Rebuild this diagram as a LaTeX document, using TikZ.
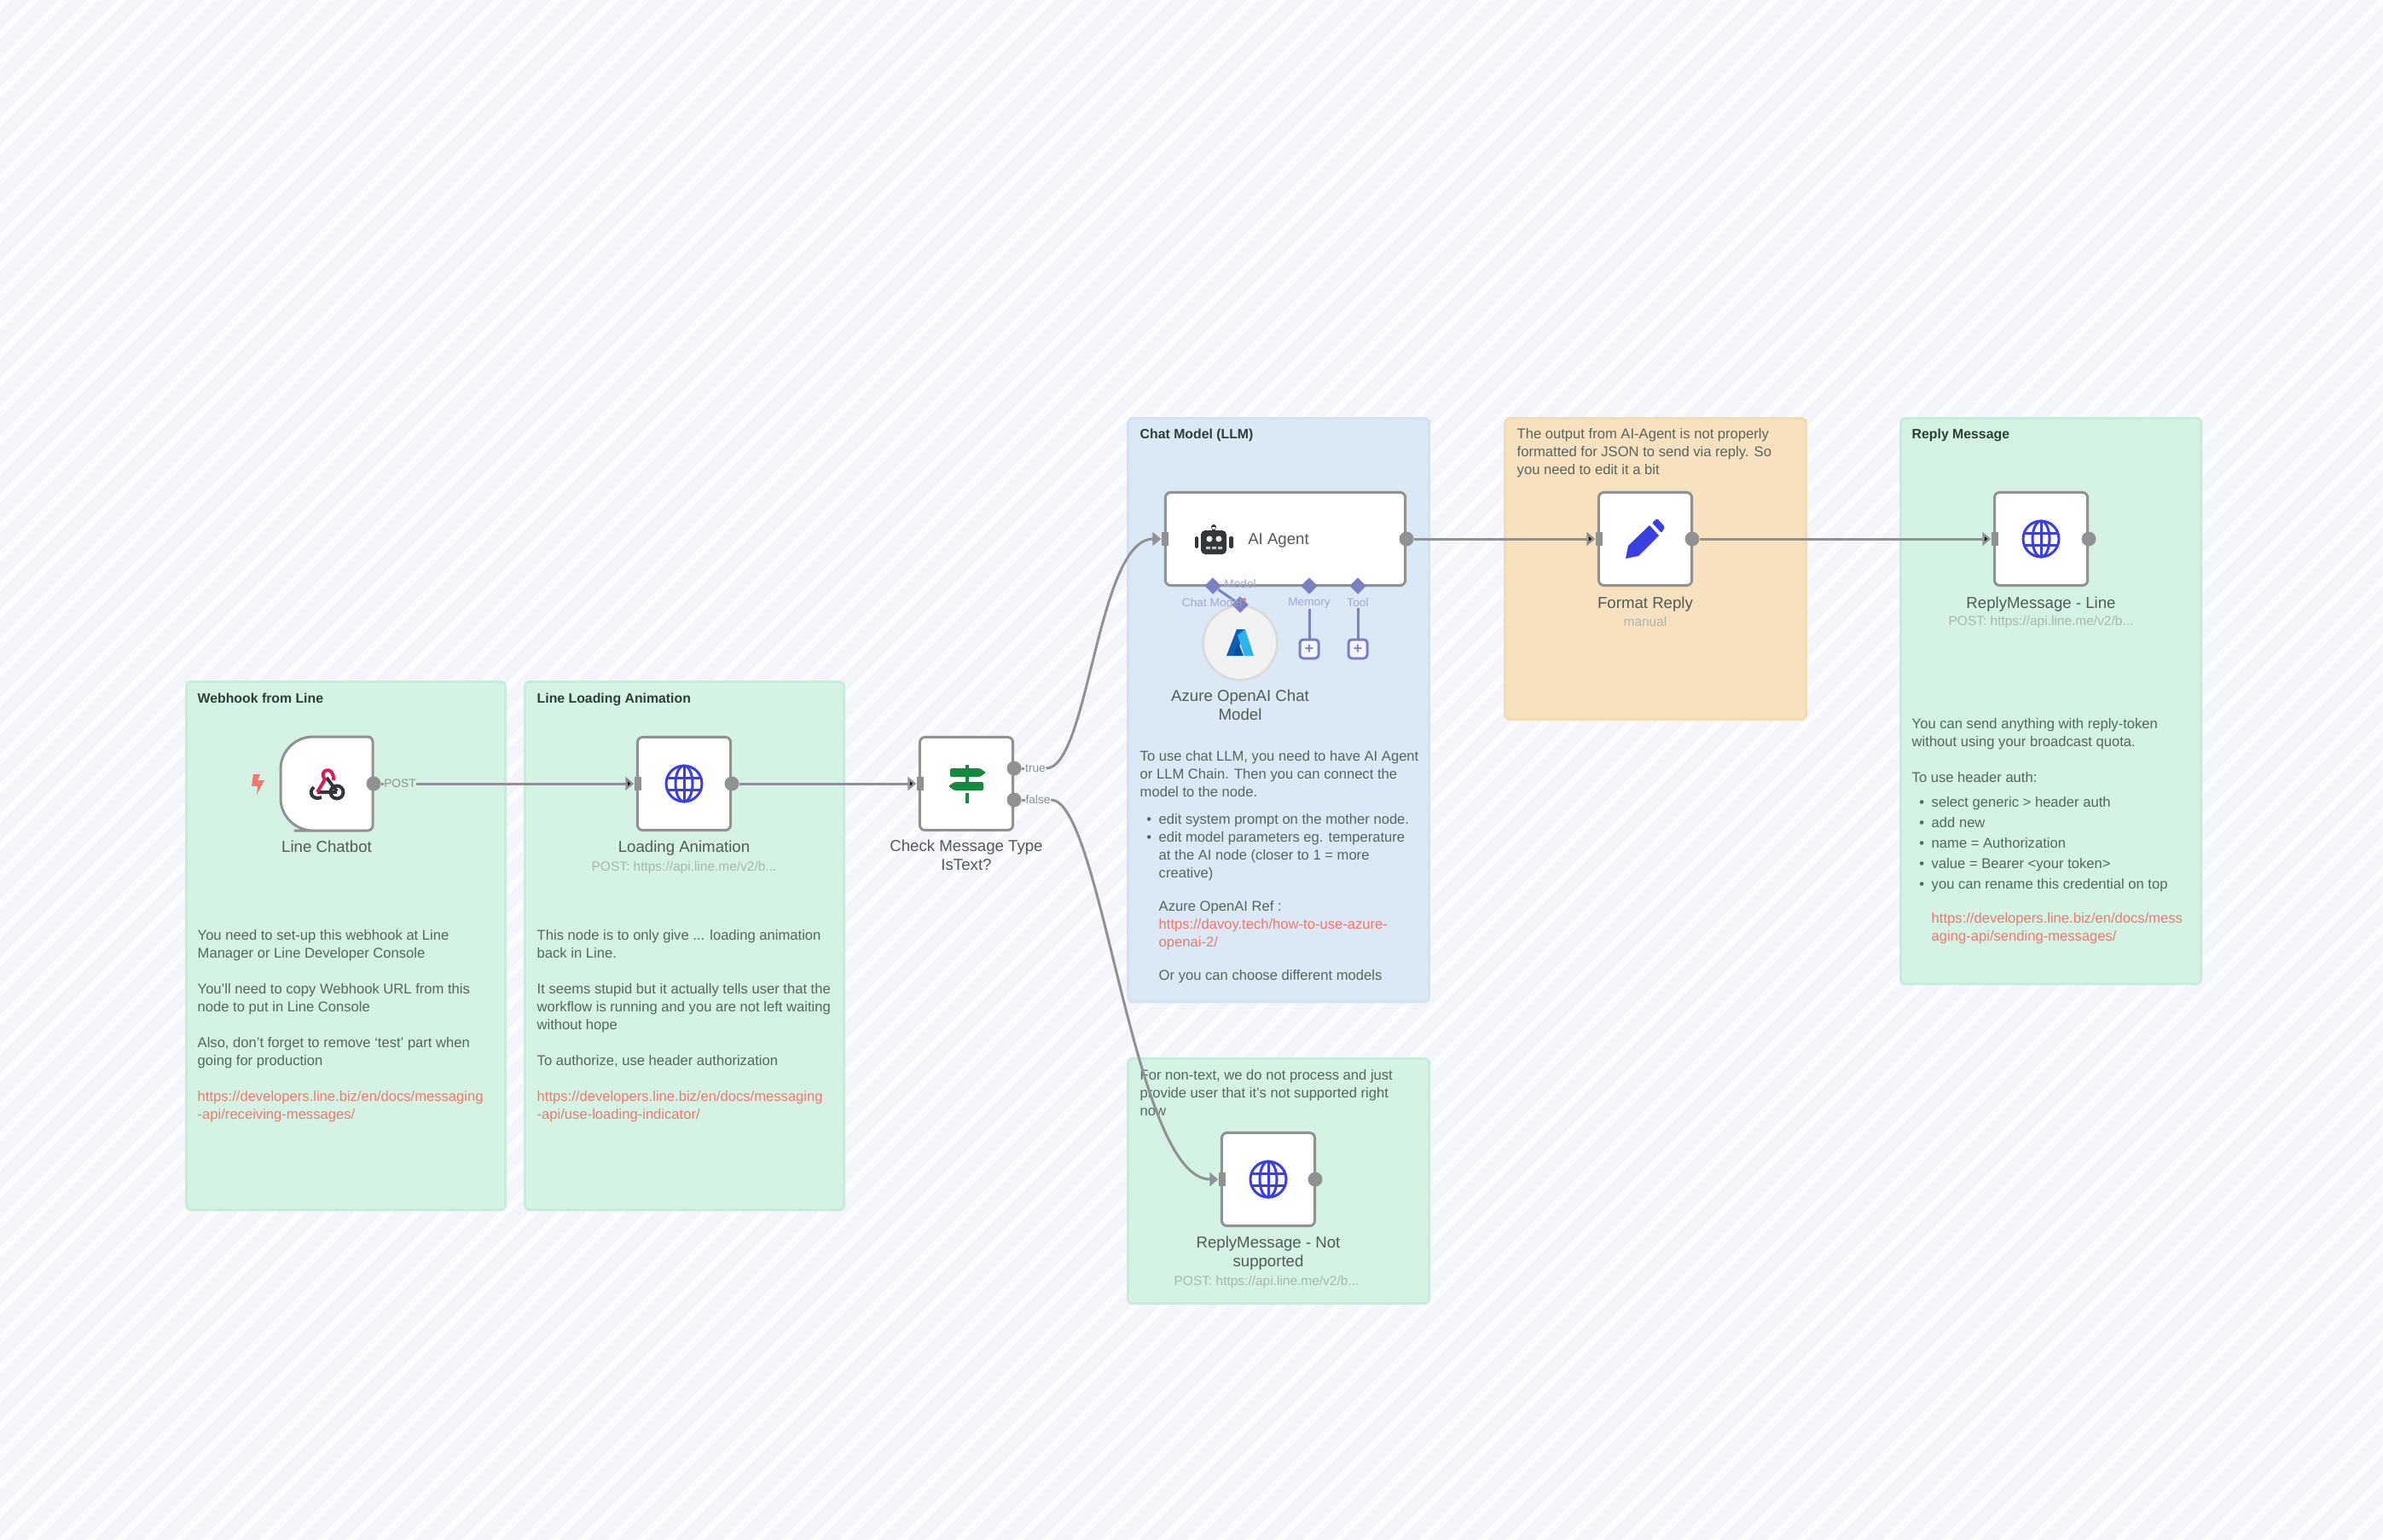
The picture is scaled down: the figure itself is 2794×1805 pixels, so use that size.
\documentclass[tikz,border=0pt]{standalone}
\usepackage{fontspec}
\setmainfont{Liberation Sans}
\usetikzlibrary{arrows.meta,shapes.geometric}
\definecolor{bgbase}{HTML}{FBFCFE}
\definecolor{bgstripe}{HTML}{F3F5FA}
\definecolor{greenpanel}{HTML}{D4F3E4}
\definecolor{greenedge}{HTML}{C6EDD9}
\definecolor{bluepanel}{HTML}{DBE9F7}
\definecolor{blueedge}{HTML}{D0E2F3}
\definecolor{orangepanel}{HTML}{F7E1BF}
\definecolor{orangeedge}{HTML}{F3DBB6}
\definecolor{edgegrey}{HTML}{8F9193}
\definecolor{notetext}{HTML}{55665F}
\definecolor{titletext}{HTML}{2F3D38}
\definecolor{labeltext}{HTML}{525A58}
\definecolor{subtext}{HTML}{A8B6B0}
\definecolor{linkred}{HTML}{F0786C}
\definecolor{subpurple}{HTML}{7C80C0}
\definecolor{sublabel}{HTML}{A3A6CF}
\definecolor{iconblue}{HTML}{3B3EE2}
\definecolor{icongreen}{HTML}{138A3E}
\definecolor{icondark}{HTML}{33363A}
\definecolor{hookpink}{HTML}{D81B5C}
\definecolor{azuredark}{HTML}{0B5FB5}
\definecolor{azuremid}{HTML}{0A4F9E}
\definecolor{azurelight}{HTML}{2FB2EA}
\tikzset{
	panel/.style={draw=#1edge, fill=#1panel, line width=0.03cm, rounded corners=0.06cm},
	box/.style={draw=edgegrey, fill=white, line width=0.03cm, rounded corners=0.06cm, inner sep=0, minimum height=1.09cm},
	outdot/.style={circle, fill=edgegrey, inner sep=0, minimum size=0.17cm},
	inport/.style={rectangle, fill=edgegrey, inner sep=0, minimum width=0.08cm, minimum height=0.16cm},
	wire/.style={draw=edgegrey, line width=0.03cm},
	arrowwire/.style={wire, -{Triangle[length=0.1cm,width=0.16cm]}},
	note/.style={anchor=north west, align=left, inner sep=0, text=notetext, font=\fontsize{4.72}{5.97}\selectfont, execute at begin node=\strut},
	paneltitle/.style={note, text=titletext, font=\fontsize{4.5}{5.97}\selectfont\bfseries},
	lab/.style={anchor=north, align=center, inner sep=0, text=labeltext, font=\fontsize{5.3}{6.25}\selectfont, execute at begin node=\strut},
	sublab/.style={inner sep=0, text=subtext, font=\fontsize{4.4}{5.2}\selectfont},
	portlab/.style={inner sep=0, text=#1, font=\fontsize{3.9}{4.7}\selectfont},
	subdiamond/.style={diamond, fill=subpurple, inner sep=0, minimum size=0.2cm},
	subwire/.style={draw=subpurple, line width=0.03cm},
	plusbox/.style={draw=subpurple, fill=white!92!subpurple, line width=0.03cm, rounded corners=0.04cm, inner sep=0, minimum size=0.22cm, text=subpurple, font=\fontsize{5}{5}\selectfont\bfseries},
	globe/.pic={
		\draw[iconblue, line width=0.03cm] (0,0) circle[radius=21];
		\draw[iconblue, line width=0.03cm] (0,0) ellipse[x radius=10, y radius=21];
		\draw[iconblue, line width=0.03cm] (0,-21) -- (0,21) (-19,-7) -- (19,-7) (-19,7) -- (19,7);
	}
}
\newcommand{\bul}{\llap{\textbullet\hspace{2.4pt}}}
\begin{document}
\begin{tikzpicture}[x=0.01cm, y=-0.01cm]
	\useasboundingbox (0,0) rectangle (2794,1805);
	\fill[bgbase] (0,0) rectangle (2794,1805);
	\begin{scope}
		\clip (0,0) rectangle (2794,1805);
		\foreach \s in {0,34,...,4620} {
			\draw[bgstripe, line width=0.15cm] (\s,-10) -- ({\s-1825},1815);
		}
	\end{scope}

	\node[panel=green, minimum width=3.74cm, minimum height=6.19cm, anchor=north west] (pwebhook) at (217,798) {};
	\node[panel=green, minimum width=3.74cm, minimum height=6.19cm, anchor=north west] (ploading) at (614,798) {};
	\node[panel=blue, minimum width=3.53cm, minimum height=6.84cm, anchor=north west] (pchat) at (1321,489) {};
	\node[panel=green, minimum width=3.53cm, minimum height=2.87cm, anchor=north west] (pnot) at (1321,1240) {};
	\node[panel=orange, minimum width=3.53cm, minimum height=3.53cm, anchor=north west] (pformat) at (1763,489) {};
	\node[panel=green, minimum width=3.52cm, minimum height=6.63cm, anchor=north west] (preply) at (2227,489) {};

	\node[paneltitle] (t1) at (231,809) {Webhook from Line};
	\node[paneltitle] (t2) at (629,809) {Line Loading Animation};
	\node[paneltitle] (t3) at (1336,499) {Chat Model (LLM)};
	\node[paneltitle] (t4) at (2241,499) {Reply Message};

	\node[note] (n1) at (231,1090) {You need to set-up this webhook at Line\\Manager or Line Developer Console\\[5.97pt]You'll need to copy Webhook URL from this\\node to put in Line Console\\[5.97pt]Also, don't forget to remove `test' part when\\going for production\\[5.97pt]\textcolor{linkred}{https://developers.line.biz/en/docs/messaging}\\\textcolor{linkred}{-api/receiving-messages/}};
	\node[note] (n2) at (629,1090) {This node is to only give ... loading animation\\back in Line.\\[5.97pt]It seems stupid but it actually tells user that the\\workflow is running and you are not left waiting\\without hope\\[5.97pt]To authorize, use header authorization\\[5.97pt]\textcolor{linkred}{https://developers.line.biz/en/docs/messaging}\\\textcolor{linkred}{-api/use-loading-indicator/}};
	\node[note] (n3) at (1336,880) {To use chat LLM, you need to have AI Agent\\or LLM Chain. Then you can connect the\\model to the node.};
	\node[note] (n4) at (1358,951) {\bul edit system prompt on the mother node.};
	\node[note] (n5) at (1358,975) {\bul edit model parameters eg. temperature\\at the AI node (closer to 1 = more\\creative)};
	\node[note] (n6) at (1358,1056) {Azure OpenAI Ref :\\\textcolor{linkred}{https://davoy.tech/how-to-use-azure-}\\\textcolor{linkred}{openai-2/}};
	\node[note] (n7) at (1358,1134) {Or you can choose different models};
	\node[note] (n8) at (1336,1254) {For non-text, we do not process and just\\provide user that it's not supported right\\now};
	\node[note] (n9) at (1778,502) {The output from AI-Agent is not properly\\formatted for JSON to send via reply. So\\you need to edit it a bit};
	\node[note] (n10) at (2241,842) {You can send anything with reply-token\\without using your broadcast quota.\\[5.97pt]To use header auth:};
	\node[note] (n11) at (2264,931) {\bul select generic > header auth};
	\node[note] (n12) at (2264,955) {\bul add new};
	\node[note] (n13) at (2264,979) {\bul name = Authorization};
	\node[note] (n14) at (2264,1003) {\bul value = Bearer <your token>};
	\node[note] (n15) at (2264,1027) {\bul you can rename this credential on top};
	\node[note] (n16) at (2264,1070) {\textcolor{linkred}{https://developers.line.biz/en/docs/mess}\\\textcolor{linkred}{aging-api/sending-messages/}};

	\node[inner sep=0, minimum width=1.09cm, minimum height=1.09cm] (nchatbot) at (383,919) {};
	\draw[box] (383,864) [rounded corners=0.38cm] -- (329,864) -- (329,974) -- (383,974) [rounded corners=0.06cm] -- (437,974) -- (437,864) -- cycle;
	\node[box, minimum width=1.09cm] (nload) at (802,919) {};
	\node[box, minimum width=1.09cm] (ncheck) at (1133,919) {};
	\node[box, minimum width=2.81cm] (nagent) at (1507,632) {};
	\node[box, minimum width=1.09cm] (nformat) at (1929,632) {};
	\node[box, minimum width=1.09cm] (nreply) at (2393,632) {};
	\node[box, minimum width=1.09cm] (nnot) at (1487,1383) {};
	\node[circle, draw=black!14, fill=black!5!white, line width=0.03cm, inner sep=0, minimum size=0.87cm] (nazure) at (1454,754) {};
	\node[plusbox] (pmemory) at (1535,761) {+};
	\node[plusbox] (ptool) at (1592,761) {+};

	\node[inport] (ploadin) at (748,919) {};
	\node[inport] (pcheckin) at (1079,919) {};
	\node[inport] (pagentin) at (1366,632) {};
	\node[inport] (pnotin) at (1433,1383) {};
	\node[inport] (pformatin) at (1875,632) {};
	\node[inport] (preplyin) at (2339,632) {};
	\node[outdot] (ochat) at (438,919) {};
	\node[outdot] (oload) at (858,919) {};
	\node[outdot] (otrue) at (1189,901) {};
	\node[outdot] (ofalse) at (1189,938) {};
	\node[outdot] (oagent) at (1649,632) {};
	\node[outdot] (onot) at (1542,1383) {};
	\node[outdot] (oformat) at (1984,632) {};
	\node[outdot] (oreply) at (2449,632) {};
	\node[portlab=subtext!80!black] (lpost) at (469,919) {POST};
	\node[portlab=subtext!80!black] (ltrue) at (1214,901) {true};
	\node[portlab=subtext!80!black] (lfalse) at (1217,938) {false};

	\path[wire] (ochat) edge (lpost) (otrue) edge (ltrue) (ofalse) edge (lfalse);
	\path[arrowwire] (lpost) edge (ploadin);
	\path[arrowwire] (oload) edge (pcheckin);
	\draw[arrowwire] (ltrue.east) .. controls +(50,0) and +(-75,0) .. (pagentin.west);
	\draw[arrowwire] (lfalse.east) .. controls +(60,0) and +(-100,0) .. (pnotin.west);
	\path[arrowwire] (oagent) edge (pformatin);
	\path[arrowwire] (oformat) edge (preplyin);

	\node[subdiamond] (dmodel) at (1422,687) {};
	\node[subdiamond] (dchat) at (1454,709) {};
	\node[subdiamond] (dmemory) at (1535,687) {};
	\node[subdiamond] (dtool) at (1592,687) {};
	\path[subwire] (dmodel) edge (dchat);
	\node[portlab=sublabel] (lmodel) at (1454,685) {Model};
	\node[portlab=sublabel] (lchat) at (1421,707) {Chat Model};
	\node[portlab=sublabel] (lmemory) at (1535,707) {Memory};
	\node[portlab=sublabel] (ltool) at (1592,707) {Tool};
	\path[subwire] (lmemory) edge (pmemory) (ltool) edge (ptool);
	\fill[linkred] (1459,703) circle[radius=2];

	\node[lab] (lbot) at (383,983) {Line Chatbot};
	\node[lab] (lload) at (802,983) {Loading Animation};
	\node[lab] (lcheck) at (1133,984) {Check Message Type\\IsText?};
	\node[lab] (lagent) at (1499,622) {AI Agent};
	\node[lab] (lazure) at (1454,808) {Azure OpenAI Chat\\Model};
	\node[lab] (lformat) at (1929,697) {Format Reply};
	\node[lab] (lreply) at (2393,697) {ReplyMessage - Line};
	\node[lab] (lnot) at (1487,1449) {ReplyMessage - Not\\supported};
	\node[sublab] (sload) at (802,1017) {POST: https://api.line.me/v2/b...};
	\node[sublab] (sformat) at (1929,729) {manual};
	\node[sublab] (sreply) at (2393,729) {POST: https://api.line.me/v2/b...};
	\node[sublab] (snot) at (1485,1503) {POST: https://api.line.me/v2/b...};

	\fill[linkred] (297,908) -- (305,908) -- (302,915) -- (310,915) -- (301,932) -- (302,922) -- (295,922) -- cycle;

	\draw[icondark, line width=0.04cm] (383,912) -- (395,928) (372,929) -- (395,929) (395,929) circle[radius=7.5];
	\draw[icondark, line width=0.04cm] (377,935) .. controls (368,939) and (360,930) .. (368,923);
	\draw[hookpink, line width=0.04cm] (372,929) -- (381,914) .. controls (372,903) and (392,896) .. (391,915);

	\path (nload) pic {globe};
	\path (nreply) pic {globe};
	\path (nnot) pic {globe};

	\fill[icongreen] (1132,897) rectangle (1136,917) (1132,930) rectangle (1136,942);
	\fill[icongreen, rounded corners=0.015cm] (1114,901) -- (1149,901) -- (1156,906) -- (1149,911) -- (1114,911) -- cycle;
	\fill[icongreen, rounded corners=0.015cm] (1153,917) -- (1119,917) -- (1112,922) -- (1119,927) -- (1153,927) -- cycle;

	\fill[icondark, rounded corners=0.05cm] (1408,622) rectangle (1438,650);
	\fill[icondark, rounded corners=0.015cm] (1401,629) rectangle (1405,643) (1441,629) rectangle (1446,643);
	\fill[icondark] (1423,618) circle[radius=3] (1421,618) rectangle (1425,622);
	\fill[white] (1418,632) circle[radius=3.5] (1429,632) circle[radius=3.5];
	\fill[white!70!icondark] (1414,641) rectangle (1419,644) (1421,641) rectangle (1426,644) (1428,641) rectangle (1433,644);

	\fill[iconblue] (1906,655) -- (1909,640) -- (1934,616) -- (1945,628) -- (1921,652) -- cycle;
	\fill[iconblue, rounded corners=0.015cm] (1937,613) -- (1943,608) -- (1952,618) -- (1948,625) -- cycle;

	\fill[azuredark] (1450,738) -- (1460,738) -- (1449,769) -- (1438,769) -- cycle;
	\fill[azurelight] (1460,738) -- (1470,769) -- (1459,769) -- (1451,745) -- cycle;
	\fill[azuremid] (1452,754) -- (1458,769) -- (1446,769) -- cycle;
\end{tikzpicture}
\end{document}
